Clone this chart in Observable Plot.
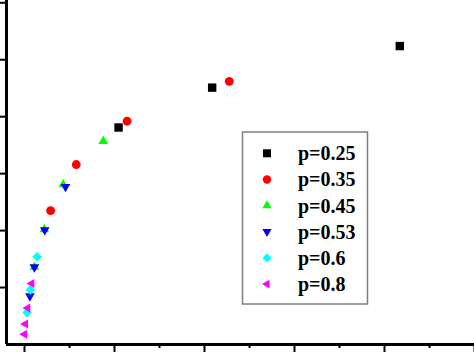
<!DOCTYPE html>
<html><head><meta charset="utf-8">
<script src="https://cdn.jsdelivr.net/npm/d3@7"></script>
<script src="https://cdn.jsdelivr.net/npm/@observablehq/plot@0.6"></script>
<style>
html,body{margin:0;padding:0;background:#fff;}
#chart{position:relative;width:474px;height:352px;overflow:hidden;}
#chart svg{display:block;}
#legend{position:absolute;left:0;top:0;}
</style></head><body><div id="chart"></div>
<script>
// Series labels and colours
const seriesLabels = ["p=0.25", "p=0.35", "p=0.45", "p=0.53", "p=0.6", "p=0.8"];
const seriesColors = ["#000000", "#ff0000", "#00ff00", "#0000ff", "#00ffff", "#ff00ff"];
const seriesShapes = ["square", "circle", "up", "down", "diamond", "left"];

// Values (arbitrary units)
const x025 = [2.09, 4.17, 8.34];
const y025 = [3.81, 4.51, 5.24];
const x035 = [0.58, 1.15, 2.28, 4.55];
const y035 = [2.35, 3.16, 3.92, 4.62];
const x045 = [0.22, 0.44, 0.86, 1.75];
const y045 = [1.36, 2.02, 2.81, 3.57];
const x053 = [0.12, 0.22, 0.45, 0.91];
const y053 = [0.85, 1.36, 2.01, 2.77];
const x060 = [0.06, 0.13, 0.28];
const y060 = [0.56, 0.96, 1.54];
const x080 = [0.00, 0.02, 0.07, 0.16];
const y080 = [0.18, 0.36, 0.64, 1.07];

// Axis tick values
const xMajorTicks = [0, 2, 4, 6, 8, 10];
const xMinorTicks = [1, 3, 5, 7, 9];
const yTicks = [1, 2, 3, 4, 5, 6];

const xs = [x025, x035, x045, x053, x060, x080];
const ys = [y025, y035, y045, y053, y060, y080];

const shapes = {
  square: {draw(c, s) { const k = Math.sqrt(s / Math.PI); c.rect(-k, -k, 2 * k, 2 * k); }},
  circle: {draw(c, s) { const k = Math.sqrt(s / Math.PI) * 1.05; c.moveTo(k, 0); c.arc(0, 0, k, 0, 2 * Math.PI); }},
  up: {draw(c, s) { const R = Math.sqrt(s / Math.PI) * 1.33, h = R * Math.sqrt(3) / 2; c.moveTo(0, -R); c.lineTo(h, R / 2); c.lineTo(-h, R / 2); c.closePath(); }},
  down: {draw(c, s) { const R = Math.sqrt(s / Math.PI) * 1.33, h = R * Math.sqrt(3) / 2; c.moveTo(0, R); c.lineTo(h, -R / 2); c.lineTo(-h, -R / 2); c.closePath(); }},
  diamond: {draw(c, s) { const d = Math.sqrt(s / Math.PI) * 1.15; c.moveTo(0, -d); c.lineTo(d, 0); c.lineTo(0, d); c.lineTo(-d, 0); c.closePath(); }},
  left: {draw(c, s) { const R = Math.sqrt(s / Math.PI) * 1.25, h = R * Math.sqrt(3) / 2; c.moveTo(-R, 0); c.lineTo(R / 2, -h); c.lineTo(R / 2, h); c.closePath(); }}
};

const dotMarks = seriesLabels.map((label, i) => {
  const rows = xs[i].map((x, j) => ({x, y: ys[i][j], series: label}));
  return Plot.dot(rows, {x: "x", y: "y", r: 4.2, fill: seriesColors[i], stroke: "none", symbol: shapes[seriesShapes[i]]});
});

const plot = Plot.plot({
  width: 474, height: 352,
  marginLeft: 6, marginRight: 0, marginTop: 0, marginBottom: 8,
  x: {domain: [-0.4, 10]},
  y: {domain: [0, 6.04]},
  style: {background: "transparent", overflow: "visible"},
  marks: [
    Plot.axisX(xMajorTicks, {tickSize: 8, strokeWidth: 2, stroke: "#000", tickFormat: () => "", label: null}),
    Plot.axisX(xMinorTicks, {tickSize: 4, strokeWidth: 2, stroke: "#000", tickFormat: () => "", label: null}),
    Plot.axisY(yTicks, {tickSize: 6, strokeWidth: 2, stroke: "#000", tickFormat: () => "", label: null}),
    Plot.ruleY([0], {strokeWidth: 3, stroke: "#000"}),
    Plot.ruleX([-0.4], {strokeWidth: 3, stroke: "#000"}),
    ...dotMarks
  ]
});
const chart = document.getElementById("chart");
chart.appendChild(plot);

// Legend overlay
const leg = d3.create("svg").attr("id", "legend").attr("width", 474).attr("height", 352);
leg.append("rect").attr("x", 242.5).attr("y", 132).attr("width", 125).attr("height", 172)
  .attr("fill", "#fff").attr("stroke", "#7f7f7f").attr("stroke-width", 1.5);
seriesLabels.forEach((label, i) => {
  const cy = 153.3 + i * 26.15;
  leg.append("path").attr("transform", `translate(267,${cy})`)
    .attr("d", d3.symbol(shapes[seriesShapes[i]], Math.PI * 16)())
    .attr("fill", seriesColors[i]);
  leg.append("text").attr("x", 298).attr("y", cy + 7)
    .attr("font-family", "'Liberation Serif', 'Times New Roman', serif")
    .attr("font-weight", "bold").attr("font-size", 20).attr("fill", "#000")
    .text(label);
});
chart.appendChild(leg.node());
</script></body></html>
